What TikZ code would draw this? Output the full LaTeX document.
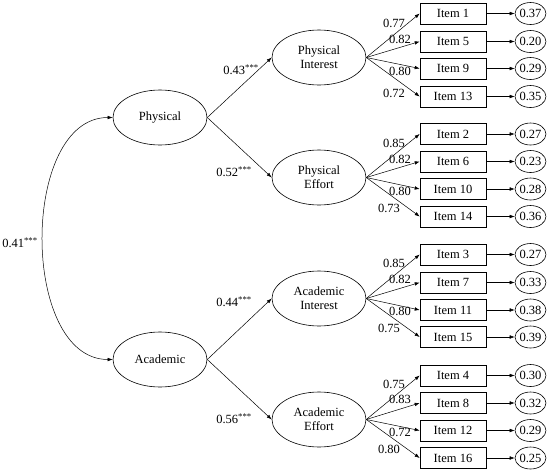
\documentclass[tikz,border=0pt]{standalone}
\usepackage{fontspec}
\setmainfont{Liberation Serif}
\usetikzlibrary{arrows.meta,shapes.geometric}
\begin{document}
\begin{tikzpicture}[x=1pt,y=-1pt,
  txt/.style={font=\fontsize{12.5}{14}\selectfont},
  lat/.style={draw, ellipse, minimum width=94pt, minimum height=55pt, inner sep=0pt, align=center, txt, line width=0.6pt},
  itembox/.style={draw, rectangle, minimum width=66pt, minimum height=21pt, inner sep=0pt, txt, line width=0.6pt},
  resid/.style={draw, ellipse, minimum width=25pt, minimum height=22pt, inner sep=0pt, txt, line width=0.6pt},
  arr/.style={-{Latex[length=5pt,width=3.6pt]}, line width=0.5pt},
  arrtwo/.style={{Latex[length=5pt,width=3.6pt]}-{Latex[length=5pt,width=3.6pt]}, line width=0.5pt},
  lbl/.style={inner sep=0pt, txt}
]
\useasboundingbox (0,0) rectangle (550,472);

% latent factors
\node[lat] (P) at (160,117.5) {Physical};
\node[lat] (A) at (160,359.5) {Academic};
\node[lat] (PI) at (319,57.5) {Physical\\Interest};
\node[lat] (PE) at (319,177.5) {Physical\\Effort};
\node[lat] (AI) at (319,298.5) {Academic\\Interest};
\node[lat] (AE) at (319,419.5) {Academic\\Effort};

% structural paths
\draw[arr] (P.east) -- (PI.west);
\draw[arr] (P.east) -- (PE.west);
\draw[arr] (A.east) -- (AI.west);
\draw[arr] (A.east) -- (AE.west);
\draw[arrtwo] (P.west) .. controls (20,117.5) and (20,359.5) .. (A.west);

\node[lbl] (s1) at (241,69.5) {0.43\textsuperscript{***}};
\node[lbl] (s2) at (234,172) {0.52\textsuperscript{***}};
\node[lbl] (s3) at (234,302) {0.44\textsuperscript{***}};
\node[lbl] (s4) at (234,419) {0.56\textsuperscript{***}};
\node[lbl] (s5) at (20,243) {0.41\textsuperscript{***}};

% items and residuals
\foreach \n/\y/\r/\f in {
  1/13.5/0.37/PI, 5/41.5/0.20/PI, 9/68.5/0.29/PI, 13/96.5/0.35/PI,
  2/134/0.27/PE, 6/161.5/0.23/PE, 10/189/0.28/PE, 14/216.5/0.36/PE,
  3/254.5/0.27/AI, 7/282.5/0.33/AI, 11/310/0.38/AI, 15/337/0.39/AI,
  4/375.5/0.30/AE, 8/403/0.32/AE, 12/430.5/0.29/AE, 16/458/0.25/AE}{
  \node[itembox] (i\n) at (453,\y) {Item \n};
  \node[resid] (e\n) at (530.5,\y) {\r};
  \draw[arr] (\f.east) -- (i\n.west);
  \draw[arr] (i\n.east) -- (e\n.west);
}

% loadings
\foreach \k/\x/\y/\v in {
  a1/394/23/0.77, a2/400/39/0.82, a3/400/71/0.80, a4/394/93/0.72,
  b1/394/143/0.85, b2/400/159/0.82, b3/400/191/0.80, b4/389/208/0.73,
  c1/394/263/0.85, c2/400/279/0.82, c3/400/311/0.80, c4/389/328/0.75,
  d1/394/384/0.75, d2/400/399/0.83, d3/400/432/0.72, d4/389/449/0.80}{
  \node[lbl] (l\k) at (\x,\y) {\v};
}
\end{tikzpicture}
\end{document}
